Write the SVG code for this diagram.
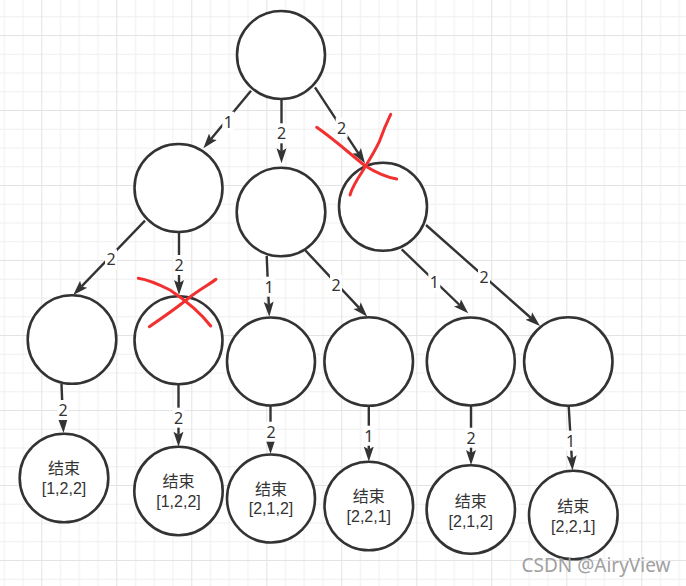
<svg xmlns="http://www.w3.org/2000/svg" width="686" height="586" viewBox="0 0 686 586">
<defs>
<pattern id="grid" x="41.3" y="35" width="75" height="75" patternUnits="userSpaceOnUse">
<rect x="0" y="0" width="75" height="75" fill="#ffffff"/>
<g fill="#f0f0f0">
<rect x="18.75" y="0" width="1" height="75"/>
<rect x="37.5" y="0" width="1" height="75"/>
<rect x="56.25" y="0" width="1" height="75"/>
<rect x="0" y="18.75" width="75" height="1"/>
<rect x="0" y="37.5" width="75" height="1"/>
<rect x="0" y="56.25" width="75" height="1"/>
</g>
<g fill="#e3e3e3">
<rect x="0" y="0" width="1" height="75"/>
<rect x="0" y="0" width="75" height="1"/>
</g>
</pattern>
<marker id="arrow" markerUnits="userSpaceOnUse" markerWidth="16" markerHeight="12" viewBox="0 0 16 12" refX="3" refY="6" orient="auto">
<path d="M0,1 L15,6 L0,11 L3,6 z" fill="#333333"/>
</marker>
</defs>
<style>
.node circle{fill:#ffffff;stroke:#333333;stroke-width:2.6}
.edge{stroke:#333333;stroke-width:2.4;fill:none;marker-end:url(#arrow)}
.lblbg{fill:#ffffff}
.lbl{font-family:"Noto Sans","Liberation Sans",sans-serif;font-size:16px;fill:#333333;text-anchor:middle}
.leaf text{font-size:16px;fill:#333333;text-anchor:middle}
.leaf .t1{font-family:"Noto Sans CJK SC",sans-serif}
.leaf .t2{font-family:"Liberation Sans",sans-serif}
.cross{stroke:#f23030;stroke-width:3;fill:none;stroke-linecap:round;stroke-linejoin:round}
.wm{font-family:"Noto Sans","Liberation Sans",sans-serif;font-size:19px;fill:#a0a0a0}
</style>
<rect x="0" y="0" width="686" height="586" fill="url(#grid)"/>

<g id="connectors">
<line class="edge" x1="251" y1="90.7" x2="211" y2="139.1"/>
<line class="edge" x1="281.5" y1="100" x2="281.5" y2="151.3"/>
<line class="edge" x1="315" y1="87.3" x2="358.4" y2="153.3"/>
<line class="edge" x1="145" y1="220.7" x2="81.6" y2="286.4"/>
<line class="edge" x1="179" y1="233" x2="179" y2="283"/>
<line class="edge" x1="266.7" y1="256" x2="268.8" y2="304.7"/>
<line class="edge" x1="305" y1="250" x2="359.1" y2="307.9"/>
<line class="edge" x1="401.7" y1="249.3" x2="459.6" y2="305"/>
<line class="edge" x1="426" y1="225" x2="531" y2="318"/>
<line class="edge" x1="61.5" y1="384" x2="63" y2="421"/>
<line class="edge" x1="178.5" y1="384" x2="178.5" y2="434.7"/>
<line class="edge" x1="270.5" y1="406" x2="270.5" y2="442"/>
<line class="edge" x1="368.8" y1="406" x2="368.8" y2="449.5"/>
<line class="edge" x1="471" y1="406" x2="471" y2="453"/>
<line class="edge" x1="568.7" y1="406" x2="571.8" y2="458.5"/>
<g id="edge-labels">
<rect class="lblbg" x="222.3" y="111.7" width="12" height="20"/><text class="lbl" x="228.3" y="127.5">1</text>
<rect class="lblbg" x="275.7" y="123.3" width="12" height="20"/><text class="lbl" x="281.7" y="139.1">2</text>
<rect class="lblbg" x="335.7" y="117.7" width="12" height="20"/><text class="lbl" x="341.7" y="133.5">2</text>
<rect class="lblbg" x="105" y="249.3" width="12" height="20"/><text class="lbl" x="111" y="265.1">2</text>
<rect class="lblbg" x="173" y="255" width="12" height="20"/><text class="lbl" x="179" y="270.8">2</text>
<rect class="lblbg" x="263" y="276.7" width="12" height="20"/><text class="lbl" x="269" y="292.5">1</text>
<rect class="lblbg" x="330" y="275" width="12" height="20"/><text class="lbl" x="336" y="290.8">2</text>
<rect class="lblbg" x="428.3" y="271.7" width="12" height="20"/><text class="lbl" x="434.3" y="287.5">1</text>
<rect class="lblbg" x="478" y="266.7" width="12" height="20"/><text class="lbl" x="484" y="282.5">2</text>
<rect class="lblbg" x="57" y="400" width="12" height="20"/><text class="lbl" x="63" y="415.8">2</text>
<rect class="lblbg" x="172.5" y="407.7" width="12" height="20"/><text class="lbl" x="178.5" y="423.5">2</text>
<rect class="lblbg" x="265" y="421.7" width="12" height="20"/><text class="lbl" x="271" y="437.5">2</text>
<rect class="lblbg" x="362.8" y="425.7" width="12" height="20"/><text class="lbl" x="368.8" y="441.5">1</text>
<rect class="lblbg" x="465" y="427.7" width="12" height="20"/><text class="lbl" x="471" y="443.5">2</text>
<rect class="lblbg" x="564.5" y="430.7" width="12" height="20"/><text class="lbl" x="570.5" y="446.5">1</text>
</g>
</g>

<g id="root" class="node"><circle cx="281" cy="55" r="44"/></g>
<g id="n1a" class="node"><circle cx="178.5" cy="188" r="44"/></g>
<g id="n1b" class="node"><circle cx="281" cy="212" r="44.3"/></g>
<g id="n1c" class="node"><circle cx="383" cy="206.7" r="44"/></g>
<g id="nA" class="node"><circle cx="72" cy="339.5" r="44.3"/></g>
<g id="nB" class="node"><circle cx="178.5" cy="340.3" r="44"/></g>
<g id="nC" class="node"><circle cx="271" cy="361.5" r="44"/></g>
<g id="nD" class="node"><circle cx="368.7" cy="361.5" r="44.3"/></g>
<g id="nE" class="node"><circle cx="470.8" cy="361.5" r="44"/></g>
<g id="nF" class="node"><circle cx="568.3" cy="361.5" r="44.2"/></g>

<g id="leafA" class="node leaf"><circle cx="64" cy="478" r="44.3"/><text class="t1" x="64" y="474">结束</text><text class="t2" x="64" y="493.5">[1,2,2]</text></g>
<g id="leafB" class="node leaf"><circle cx="178.5" cy="491" r="44.2"/><text class="t1" x="178.5" y="487">结束</text><text class="t2" x="178.5" y="506.5">[1,2,2]</text></g>
<g id="leafC" class="node leaf"><circle cx="271" cy="498.5" r="44"/><text class="t1" x="271" y="494.5">结束</text><text class="t2" x="271" y="514">[2,1,2]</text></g>
<g id="leafD" class="node leaf"><circle cx="368.8" cy="506" r="44.3"/><text class="t1" x="368.8" y="502">结束</text><text class="t2" x="368.8" y="521.5">[2,2,1]</text></g>
<g id="leafE" class="node leaf"><circle cx="470.8" cy="509.5" r="44.2"/><text class="t1" x="470.8" y="507">结束</text><text class="t2" x="470.8" y="526.5">[2,1,2]</text></g>
<g id="leafF" class="node leaf"><circle cx="573.3" cy="515" r="44.3"/><text class="t1" x="573.3" y="512">结束</text><text class="t2" x="573.3" y="531.5">[2,2,1]</text></g>

<g id="cross-n1c">
<path class="cross" d="M316.7,127.3 C335,140 350,154 365,165.7 C375,172 386,177 396.7,179"/>
<path class="cross" d="M390.7,114.3 C385,126 382,134 379.3,141.7 C373,155 366,165 362,172 C356,181 352,188 350,195"/>
</g>
<g id="cross-nB">
<path class="cross" d="M138.3,278.3 C150,280 160,285 170,290 C185,300 200,312 210.7,326"/>
<path class="cross" d="M216,279.3 C210,284 200,289 190,297 C178,307 165,316 149.3,326.7"/>
</g>

<text class="wm" x="521.5" y="571.5">CSDN @AiryView</text>
</svg>
